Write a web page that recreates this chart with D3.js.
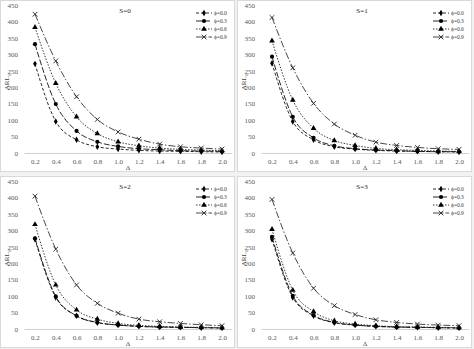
<!DOCTYPE html>
<html>
<head>
<meta charset="utf-8">
<script src="https://cdn.jsdelivr.net/npm/d3@7"></script>
<style>
  html, body { margin: 0; padding: 0; background: #f2f2f2; }
  svg { display: block; font-family: "Liberation Serif", serif; }
  text { font-family: "Liberation Serif", serif; }
</style>
</head>
<body>
<svg id="chart" width="474" height="349"></svg>
<script>
// Shift sizes on the horizontal axis
const deltas = ["0.2", "0.4", "0.6", "0.8", "1.0", "1.2", "1.4", "1.6", "1.8", "2.0"];
const phiLabels = ["ϕ=0.0", "ϕ=0.3", "ϕ=0.6", "ϕ=0.9"];
const yTicks = [0, 50, 100, 150, 200, 250, 300, 350, 400, 450];
const panelTitles = ["S=0", "S=1", "S=2", "S=3"];

// ARL1 values, one array per phi, for each S
const s0_phi00 = [271, 96, 40, 19, 12, 8, 6, 5, 4, 3];
const s0_phi03 = [331, 149, 67, 34, 20, 13, 10, 7, 6, 5];
const s0_phi06 = [382, 212, 110, 59, 34, 22, 15, 11, 9, 7];
const s0_phi09 = [422, 280, 171, 102, 64, 42, 27, 19, 15, 12];

const s1_phi00 = [273, 96, 40, 19, 12, 8, 6, 5, 4, 3];
const s1_phi03 = [293, 110, 46, 22, 13, 9, 7, 5, 4, 4];
const s1_phi06 = [341, 161, 75, 38, 23, 14, 10, 8, 6, 5];
const s1_phi09 = [412, 259, 151, 88, 54, 33, 23, 17, 13, 11];

const s2_phi00 = [273, 96, 40, 19, 12, 8, 6, 5, 4, 3];
const s2_phi03 = [276, 99, 40, 20, 12, 8, 6, 5, 4, 3];
const s2_phi06 = [318, 134, 58, 30, 17, 11, 8, 6, 5, 4];
const s2_phi09 = [404, 243, 134, 78, 48, 30, 22, 17, 13, 10];

const s3_phi00 = [273, 96, 40, 19, 12, 8, 6, 5, 4, 3];
const s3_phi03 = [280, 101, 42, 20, 12, 8, 6, 5, 4, 3];
const s3_phi06 = [303, 118, 53, 25, 15, 10, 7, 6, 5, 4];
const s3_phi09 = [394, 231, 124, 71, 44, 28, 20, 15, 12, 10];

const panelSeries = [
  [s0_phi00, s0_phi03, s0_phi06, s0_phi09],
  [s1_phi00, s1_phi03, s1_phi06, s1_phi09],
  [s2_phi00, s2_phi03, s2_phi06, s2_phi09],
  [s3_phi00, s3_phi03, s3_phi06, s3_phi09]
];

// Line dash and marker style per phi
const styles = [
  { dash: "3,2",         color: "#111", marker: "diamond" },
  { dash: "6,2",         color: "#111", marker: "circle" },
  { dash: "1.5,1.5",     color: "#222", marker: "triangle" },
  { dash: "7,2,1.5,2",   color: "#333", marker: "cross" }
];

const svg = d3.select("#chart");
const panelOrigins = [[0, 0], [237, 0], [0, 176], [237, 176]];
const panelW = 235, panelH = 172;

function drawMarker(g, type, x, y) {
  if (type === "diamond") {
    g.append("path").attr("d", d3.symbol(d3.symbolDiamond, 12)())
      .attr("transform", `translate(${x},${y})`).attr("fill", "#000");
  } else if (type === "circle") {
    g.append("circle").attr("cx", x).attr("cy", y).attr("r", 2.1).attr("fill", "#000");
  } else if (type === "triangle") {
    g.append("path").attr("d", d3.symbol(d3.symbolTriangle, 14)())
      .attr("transform", `translate(${x},${y})`).attr("fill", "#000");
  } else {
    g.append("path").attr("d", d3.symbol(d3.symbolX, 16)())
      .attr("transform", `translate(${x},${y})`)
      .attr("fill", "none").attr("stroke", "#222").attr("stroke-width", 0.9);
  }
}

panelSeries.forEach((series, p) => {
  const [ox, oy] = panelOrigins[p];
  const g = svg.append("g").attr("transform", `translate(${ox},${oy})`);

  // chart frame
  g.append("rect").attr("x", 0.5).attr("y", 0.5)
    .attr("width", panelW - 1).attr("height", panelH - 1)
    .attr("fill", "#fff").attr("stroke", "#d9d9d9").attr("stroke-width", 1);

  const x = d3.scalePoint().domain(deltas).range([24.6, 232.4]).padding(0.5);
  const y = d3.scaleLinear().domain([0, 450]).range([153, 5]);

  // vertical value axis (labels only)
  const yAxis = g.append("g").attr("transform", "translate(22,0)")
    .call(d3.axisLeft(y).tickValues(yTicks).tickSize(0).tickPadding(4));
  yAxis.select(".domain").remove();
  yAxis.selectAll("text").attr("font-size", 7).attr("fill", "#595959")
    .attr("font-family", "Liberation Serif");

  // horizontal category axis
  const xAxis = g.append("g").attr("transform", "translate(0,153)")
    .call(d3.axisBottom(x).tickSize(0).tickPadding(6));
  xAxis.select(".domain").attr("d", "M24.6,0.5H232.4").attr("stroke", "#d0d0d0");
  xAxis.selectAll("text").attr("font-size", 7).attr("fill", "#595959")
    .attr("font-family", "Liberation Serif");

  // axis titles
  g.append("text").attr("x", 128).attr("y", 170).attr("text-anchor", "middle")
    .attr("font-size", 7).attr("fill", "#404040").text("Δ");
  const yl = g.append("text").attr("transform", "translate(9,82) rotate(-90)")
    .attr("text-anchor", "middle").attr("font-size", 7).attr("fill", "#404040");
  yl.append("tspan").text("ARL");
  yl.append("tspan").attr("font-size", 5).attr("dy", 1.5).text("1");

  // panel title
  g.append("text").attr("x", 125).attr("y", 13).attr("text-anchor", "middle")
    .attr("font-size", 7).attr("fill", "#222").text(panelTitles[p]);

  // series lines and markers
  const line = d3.line().x((d, i) => x(deltas[i])).y(d => y(d)).curve(d3.curveMonotoneX);
  series.forEach((vals, k) => {
    const st = styles[k];
    g.append("path").datum(vals).attr("d", line)
      .attr("fill", "none").attr("stroke", st.color)
      .attr("stroke-width", 0.9).attr("stroke-dasharray", st.dash);
    const mg = g.append("g");
    vals.forEach((v, i) => drawMarker(mg, st.marker, x(deltas[i]), y(v)));
  });

  // legend
  const lg = g.append("g");
  phiLabels.forEach((lab, k) => {
    const st = styles[k];
    const ly = 13 + k * 8;
    lg.append("line").attr("x1", 196).attr("x2", 212).attr("y1", ly).attr("y2", ly)
      .attr("stroke", st.color).attr("stroke-width", 0.9).attr("stroke-dasharray", st.dash);
    drawMarker(lg, st.marker, 204, ly);
    lg.append("text").attr("x", 214).attr("y", ly + 2).attr("font-size", 5.5)
      .attr("fill", "#404040").text(lab);
  });
});
</script>
</body>
</html>
